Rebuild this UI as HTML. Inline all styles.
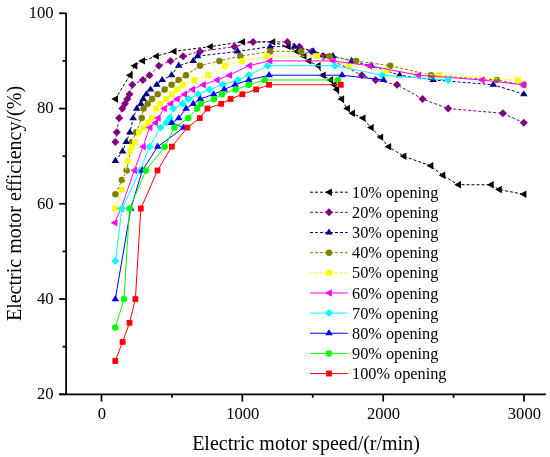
<!DOCTYPE html>
<html><head><meta charset="utf-8"><style>
html,body{margin:0;padding:0;background:#fff;width:550px;height:457px;overflow:hidden;position:relative;font-family:"Liberation Serif",serif;}
</style></head><body>
<svg width="550" height="457" viewBox="0 0 550 457" style="position:absolute;left:0;top:0;will-change:transform">
<g stroke="#000" stroke-width="1.75" fill="none">
<line x1="66.1" y1="12.8" x2="66.1" y2="395.3"/>
<line x1="59.099999999999994" y1="394.3" x2="545.9" y2="394.3"/>
<line x1="59.099999999999994" y1="394.30" x2="66.1" y2="394.30"/>
<line x1="59.099999999999994" y1="299.05" x2="66.1" y2="299.05"/>
<line x1="59.099999999999994" y1="203.80" x2="66.1" y2="203.80"/>
<line x1="59.099999999999994" y1="108.55" x2="66.1" y2="108.55"/>
<line x1="59.099999999999994" y1="13.30" x2="66.1" y2="13.30"/>
<line x1="62.599999999999994" y1="346.68" x2="66.1" y2="346.68"/>
<line x1="62.599999999999994" y1="251.43" x2="66.1" y2="251.43"/>
<line x1="62.599999999999994" y1="156.18" x2="66.1" y2="156.18"/>
<line x1="62.599999999999994" y1="60.92" x2="66.1" y2="60.92"/>
<line x1="101.50" y1="394.3" x2="101.50" y2="401.6"/>
<line x1="242.33" y1="394.3" x2="242.33" y2="401.6"/>
<line x1="383.17" y1="394.3" x2="383.17" y2="401.6"/>
<line x1="524.00" y1="394.3" x2="524.00" y2="401.6"/>
<line x1="171.92" y1="394.3" x2="171.92" y2="397.8"/>
<line x1="312.75" y1="394.3" x2="312.75" y2="397.8"/>
<line x1="453.58" y1="394.3" x2="453.58" y2="397.8"/>
</g>
<g font-family="Liberation Serif, serif" font-size="16.6" fill="#000">
<text x="53.6" y="399.00" text-anchor="end">20</text>
<text x="53.6" y="303.75" text-anchor="end">40</text>
<text x="53.6" y="208.50" text-anchor="end">60</text>
<text x="53.6" y="113.25" text-anchor="end">80</text>
<text x="53.6" y="18.00" text-anchor="end">100</text>
<text x="101.90" y="419.3" text-anchor="middle">0</text>
<text x="242.73" y="419.3" text-anchor="middle">1000</text>
<text x="383.57" y="419.3" text-anchor="middle">2000</text>
<text x="524.40" y="419.3" text-anchor="middle">3000</text>
</g>
<text x="306" y="450.2" text-anchor="middle" font-family="Liberation Serif, serif" font-size="20">Electric motor speed/(r/min)</text>
<text transform="translate(21,203.5) rotate(-90)" text-anchor="middle" font-family="Liberation Serif, serif" font-size="20">Electric motor efficiency/(%)</text>
<path d="M115.20,99.03L129.80,75.21L134.50,65.69L142.20,60.92L156.00,56.16L173.70,51.40L210.00,46.64L242.20,41.88L272.40,41.88L287.90,46.64L296.60,51.40L303.70,56.16L308.60,60.92L317.80,65.69L322.90,75.21L330.30,79.97L333.80,84.74L336.40,89.50L341.30,99.03L347.10,108.55L352.20,113.31L362.70,118.08L370.90,127.60L380.40,137.12L388.40,146.65L403.60,156.18L430.50,165.70L442.50,175.23L458.20,184.75L490.90,184.75L499.00,189.51L523.60,194.28" fill="none" stroke="#000000" stroke-width="1.0" stroke-dasharray="3,2"/>
<g><path d="M111.30,99.03L118.00,95.33L118.00,102.73Z" fill="#000000"/><path d="M125.90,75.21L132.60,71.51L132.60,78.91Z" fill="#000000"/><path d="M130.60,65.69L137.30,61.99L137.30,69.39Z" fill="#000000"/><path d="M138.30,60.92L145.00,57.22L145.00,64.62Z" fill="#000000"/><path d="M152.10,56.16L158.80,52.46L158.80,59.86Z" fill="#000000"/><path d="M169.80,51.40L176.50,47.70L176.50,55.10Z" fill="#000000"/><path d="M206.10,46.64L212.80,42.94L212.80,50.34Z" fill="#000000"/><path d="M238.30,41.88L245.00,38.17L245.00,45.58Z" fill="#000000"/><path d="M268.50,41.88L275.20,38.17L275.20,45.58Z" fill="#000000"/><path d="M284.00,46.64L290.70,42.94L290.70,50.34Z" fill="#000000"/><path d="M292.70,51.40L299.40,47.70L299.40,55.10Z" fill="#000000"/><path d="M299.80,56.16L306.50,52.46L306.50,59.86Z" fill="#000000"/><path d="M304.70,60.92L311.40,57.22L311.40,64.62Z" fill="#000000"/><path d="M313.90,65.69L320.60,61.99L320.60,69.39Z" fill="#000000"/><path d="M319.00,75.21L325.70,71.51L325.70,78.91Z" fill="#000000"/><path d="M326.40,79.97L333.10,76.27L333.10,83.67Z" fill="#000000"/><path d="M329.90,84.74L336.60,81.04L336.60,88.44Z" fill="#000000"/><path d="M332.50,89.50L339.20,85.80L339.20,93.20Z" fill="#000000"/><path d="M337.40,99.03L344.10,95.33L344.10,102.73Z" fill="#000000"/><path d="M343.20,108.55L349.90,104.85L349.90,112.25Z" fill="#000000"/><path d="M348.30,113.31L355.00,109.61L355.00,117.01Z" fill="#000000"/><path d="M358.80,118.08L365.50,114.38L365.50,121.78Z" fill="#000000"/><path d="M367.00,127.60L373.70,123.90L373.70,131.30Z" fill="#000000"/><path d="M376.50,137.12L383.20,133.43L383.20,140.82Z" fill="#000000"/><path d="M384.50,146.65L391.20,142.95L391.20,150.35Z" fill="#000000"/><path d="M399.70,156.18L406.40,152.48L406.40,159.88Z" fill="#000000"/><path d="M426.60,165.70L433.30,162.00L433.30,169.40Z" fill="#000000"/><path d="M438.60,175.23L445.30,171.53L445.30,178.93Z" fill="#000000"/><path d="M454.30,184.75L461.00,181.05L461.00,188.45Z" fill="#000000"/><path d="M487.00,184.75L493.70,181.05L493.70,188.45Z" fill="#000000"/><path d="M495.10,189.51L501.80,185.81L501.80,193.21Z" fill="#000000"/><path d="M519.70,194.28L526.40,190.58L526.40,197.97Z" fill="#000000"/></g>
<path d="M115.40,141.89L116.80,132.36L119.10,118.08L122.30,108.55L125.00,103.79L127.30,99.03L129.50,94.26L132.30,84.74L142.90,79.97L149.50,75.21L158.90,65.69L170.50,60.92L183.10,56.16L200.10,51.40L234.50,46.64L253.10,41.88L287.40,41.88L299.40,46.64L311.90,51.40L323.50,56.16L361.80,75.21L375.60,79.97L397.00,84.74L422.50,99.03L448.20,108.55L502.90,113.31L523.80,122.84" fill="none" stroke="#800080" stroke-width="1.0" stroke-dasharray="3,2"/>
<g><path d="M115.40,137.89L119.40,141.89L115.40,145.89L111.40,141.89Z" fill="#800080"/><path d="M116.80,128.36L120.80,132.36L116.80,136.36L112.80,132.36Z" fill="#800080"/><path d="M119.10,114.08L123.10,118.08L119.10,122.08L115.10,118.08Z" fill="#800080"/><path d="M122.30,104.55L126.30,108.55L122.30,112.55L118.30,108.55Z" fill="#800080"/><path d="M125.00,99.79L129.00,103.79L125.00,107.79L121.00,103.79Z" fill="#800080"/><path d="M127.30,95.03L131.30,99.03L127.30,103.03L123.30,99.03Z" fill="#800080"/><path d="M129.50,90.26L133.50,94.26L129.50,98.26L125.50,94.26Z" fill="#800080"/><path d="M132.30,80.74L136.30,84.74L132.30,88.74L128.30,84.74Z" fill="#800080"/><path d="M142.90,75.97L146.90,79.97L142.90,83.97L138.90,79.97Z" fill="#800080"/><path d="M149.50,71.21L153.50,75.21L149.50,79.21L145.50,75.21Z" fill="#800080"/><path d="M158.90,61.69L162.90,65.69L158.90,69.69L154.90,65.69Z" fill="#800080"/><path d="M170.50,56.92L174.50,60.92L170.50,64.92L166.50,60.92Z" fill="#800080"/><path d="M183.10,52.16L187.10,56.16L183.10,60.16L179.10,56.16Z" fill="#800080"/><path d="M200.10,47.40L204.10,51.40L200.10,55.40L196.10,51.40Z" fill="#800080"/><path d="M234.50,42.64L238.50,46.64L234.50,50.64L230.50,46.64Z" fill="#800080"/><path d="M253.10,37.88L257.10,41.88L253.10,45.88L249.10,41.88Z" fill="#800080"/><path d="M287.40,37.88L291.40,41.88L287.40,45.88L283.40,41.88Z" fill="#800080"/><path d="M299.40,42.64L303.40,46.64L299.40,50.64L295.40,46.64Z" fill="#800080"/><path d="M311.90,47.40L315.90,51.40L311.90,55.40L307.90,51.40Z" fill="#800080"/><path d="M323.50,52.16L327.50,56.16L323.50,60.16L319.50,56.16Z" fill="#800080"/><path d="M361.80,71.21L365.80,75.21L361.80,79.21L357.80,75.21Z" fill="#800080"/><path d="M375.60,75.97L379.60,79.97L375.60,83.97L371.60,79.97Z" fill="#800080"/><path d="M397.00,80.74L401.00,84.74L397.00,88.74L393.00,84.74Z" fill="#800080"/><path d="M422.50,95.03L426.50,99.03L422.50,103.03L418.50,99.03Z" fill="#800080"/><path d="M448.20,104.55L452.20,108.55L448.20,112.55L444.20,108.55Z" fill="#800080"/><path d="M502.90,109.31L506.90,113.31L502.90,117.31L498.90,113.31Z" fill="#800080"/><path d="M523.80,118.84L527.80,122.84L523.80,126.84L519.80,122.84Z" fill="#800080"/></g>
<path d="M115.40,160.94L122.60,151.41L126.30,141.89L129.90,132.36L133.20,118.08L136.80,108.55L140.90,103.79L143.20,99.03L146.40,94.26L150.50,89.50L156.80,84.74L162.20,79.97L171.60,75.21L178.70,65.69L193.30,60.92L197.60,56.16L237.60,51.40L270.20,46.64L294.40,46.64L313.40,51.40L332.90,56.16L351.70,60.92L371.30,65.69L399.60,75.21L433.30,79.97L493.30,84.74L523.80,94.26" fill="none" stroke="#000080" stroke-width="1.0" stroke-dasharray="3,2"/>
<g><path d="M115.40,156.84L119.20,163.04L111.60,163.04Z" fill="#000080"/><path d="M122.60,147.31L126.40,153.51L118.80,153.51Z" fill="#000080"/><path d="M126.30,137.79L130.10,143.99L122.50,143.99Z" fill="#000080"/><path d="M129.90,128.26L133.70,134.46L126.10,134.46Z" fill="#000080"/><path d="M133.20,113.98L137.00,120.17L129.40,120.17Z" fill="#000080"/><path d="M136.80,104.45L140.60,110.65L133.00,110.65Z" fill="#000080"/><path d="M140.90,99.69L144.70,105.89L137.10,105.89Z" fill="#000080"/><path d="M143.20,94.93L147.00,101.12L139.40,101.12Z" fill="#000080"/><path d="M146.40,90.16L150.20,96.36L142.60,96.36Z" fill="#000080"/><path d="M150.50,85.40L154.30,91.60L146.70,91.60Z" fill="#000080"/><path d="M156.80,80.64L160.60,86.84L153.00,86.84Z" fill="#000080"/><path d="M162.20,75.88L166.00,82.07L158.40,82.07Z" fill="#000080"/><path d="M171.60,71.11L175.40,77.31L167.80,77.31Z" fill="#000080"/><path d="M178.70,61.59L182.50,67.79L174.90,67.79Z" fill="#000080"/><path d="M193.30,56.82L197.10,63.02L189.50,63.02Z" fill="#000080"/><path d="M197.60,52.06L201.40,58.26L193.80,58.26Z" fill="#000080"/><path d="M237.60,47.30L241.40,53.50L233.80,53.50Z" fill="#000080"/><path d="M270.20,42.54L274.00,48.74L266.40,48.74Z" fill="#000080"/><path d="M294.40,42.54L298.20,48.74L290.60,48.74Z" fill="#000080"/><path d="M313.40,47.30L317.20,53.50L309.60,53.50Z" fill="#000080"/><path d="M332.90,52.06L336.70,58.26L329.10,58.26Z" fill="#000080"/><path d="M351.70,56.82L355.50,63.02L347.90,63.02Z" fill="#000080"/><path d="M371.30,61.59L375.10,67.79L367.50,67.79Z" fill="#000080"/><path d="M399.60,71.11L403.40,77.31L395.80,77.31Z" fill="#000080"/><path d="M433.30,75.88L437.10,82.07L429.50,82.07Z" fill="#000080"/><path d="M493.30,80.64L497.10,86.84L489.50,86.84Z" fill="#000080"/><path d="M523.80,90.16L527.60,96.36L520.00,96.36Z" fill="#000080"/></g>
<path d="M115.40,194.28L121.90,179.99L126.60,170.46L132.10,141.89L136.10,132.36L141.70,118.08L143.60,108.55L147.70,103.79L152.10,99.03L157.70,94.26L164.60,89.50L171.60,84.74L178.60,79.97L186.00,75.21L200.00,65.69L219.40,60.92L240.30,56.16L270.20,51.40L301.00,51.40L329.30,56.16L356.20,60.92L390.20,65.69L431.10,75.21L496.90,79.97L523.60,84.74" fill="none" stroke="#808000" stroke-width="1.0" stroke-dasharray="3,2"/>
<g><circle cx="115.40" cy="194.28" r="3.25" fill="#808000"/><circle cx="121.90" cy="179.99" r="3.25" fill="#808000"/><circle cx="126.60" cy="170.46" r="3.25" fill="#808000"/><circle cx="132.10" cy="141.89" r="3.25" fill="#808000"/><circle cx="136.10" cy="132.36" r="3.25" fill="#808000"/><circle cx="141.70" cy="118.08" r="3.25" fill="#808000"/><circle cx="143.60" cy="108.55" r="3.25" fill="#808000"/><circle cx="147.70" cy="103.79" r="3.25" fill="#808000"/><circle cx="152.10" cy="99.03" r="3.25" fill="#808000"/><circle cx="157.70" cy="94.26" r="3.25" fill="#808000"/><circle cx="164.60" cy="89.50" r="3.25" fill="#808000"/><circle cx="171.60" cy="84.74" r="3.25" fill="#808000"/><circle cx="178.60" cy="79.97" r="3.25" fill="#808000"/><circle cx="186.00" cy="75.21" r="3.25" fill="#808000"/><circle cx="200.00" cy="65.69" r="3.25" fill="#808000"/><circle cx="219.40" cy="60.92" r="3.25" fill="#808000"/><circle cx="240.30" cy="56.16" r="3.25" fill="#808000"/><circle cx="270.20" cy="51.40" r="3.25" fill="#808000"/><circle cx="301.00" cy="51.40" r="3.25" fill="#808000"/><circle cx="329.30" cy="56.16" r="3.25" fill="#808000"/><circle cx="356.20" cy="60.92" r="3.25" fill="#808000"/><circle cx="390.20" cy="65.69" r="3.25" fill="#808000"/><circle cx="431.10" cy="75.21" r="3.25" fill="#808000"/><circle cx="496.90" cy="79.97" r="3.25" fill="#808000"/><circle cx="523.60" cy="84.74" r="3.25" fill="#808000"/></g>
<path d="M115.10,208.56L121.90,189.51L127.70,160.94L129.90,151.41L132.10,146.65L135.00,141.89L138.90,132.36L143.90,127.60L147.80,122.84L151.90,118.08L156.30,108.55L160.20,103.79L166.10,99.03L171.80,94.26L176.90,89.50L182.80,84.74L194.30,79.97L208.10,75.21L224.80,65.69L242.30,60.92L267.20,56.16L316.80,56.16L348.80,65.69L386.50,70.45L439.10,75.21L518.00,79.97" fill="none" stroke="#FFFF00" stroke-width="1.0" stroke-dasharray="3,2"/>
<g><rect x="112.20" y="205.66" width="5.80" height="5.80" fill="#FFFF00"/><rect x="119.00" y="186.61" width="5.80" height="5.80" fill="#FFFF00"/><rect x="124.80" y="158.04" width="5.80" height="5.80" fill="#FFFF00"/><rect x="127.00" y="148.51" width="5.80" height="5.80" fill="#FFFF00"/><rect x="129.20" y="143.75" width="5.80" height="5.80" fill="#FFFF00"/><rect x="132.10" y="138.99" width="5.80" height="5.80" fill="#FFFF00"/><rect x="136.00" y="129.46" width="5.80" height="5.80" fill="#FFFF00"/><rect x="141.00" y="124.70" width="5.80" height="5.80" fill="#FFFF00"/><rect x="144.90" y="119.94" width="5.80" height="5.80" fill="#FFFF00"/><rect x="149.00" y="115.17" width="5.80" height="5.80" fill="#FFFF00"/><rect x="153.40" y="105.65" width="5.80" height="5.80" fill="#FFFF00"/><rect x="157.30" y="100.89" width="5.80" height="5.80" fill="#FFFF00"/><rect x="163.20" y="96.12" width="5.80" height="5.80" fill="#FFFF00"/><rect x="168.90" y="91.36" width="5.80" height="5.80" fill="#FFFF00"/><rect x="174.00" y="86.60" width="5.80" height="5.80" fill="#FFFF00"/><rect x="179.90" y="81.84" width="5.80" height="5.80" fill="#FFFF00"/><rect x="191.40" y="77.07" width="5.80" height="5.80" fill="#FFFF00"/><rect x="205.20" y="72.31" width="5.80" height="5.80" fill="#FFFF00"/><rect x="221.90" y="62.79" width="5.80" height="5.80" fill="#FFFF00"/><rect x="239.40" y="58.02" width="5.80" height="5.80" fill="#FFFF00"/><rect x="264.30" y="53.26" width="5.80" height="5.80" fill="#FFFF00"/><rect x="313.90" y="53.26" width="5.80" height="5.80" fill="#FFFF00"/><rect x="345.90" y="62.79" width="5.80" height="5.80" fill="#FFFF00"/><rect x="383.60" y="67.55" width="5.80" height="5.80" fill="#FFFF00"/><rect x="436.20" y="72.31" width="5.80" height="5.80" fill="#FFFF00"/><rect x="515.10" y="77.07" width="5.80" height="5.80" fill="#FFFF00"/></g>
<path d="M114.60,222.85L121.00,208.56L134.30,170.46L143.00,146.65L149.60,127.60L155.20,122.84L157.90,118.08L164.00,108.55L170.40,103.79L176.90,99.03L184.20,94.26L192.20,89.50L203.00,84.74L216.80,79.97L229.20,75.21L249.00,65.69L269.60,60.92L332.90,60.92L369.10,65.69L418.20,75.21L481.80,79.97L523.20,84.74" fill="none" stroke="#FF00FF" stroke-width="1.0"/>
<g><path d="M110.70,222.85L117.40,219.15L117.40,226.55Z" fill="#FF00FF"/><path d="M117.10,208.56L123.80,204.86L123.80,212.26Z" fill="#FF00FF"/><path d="M130.40,170.46L137.10,166.76L137.10,174.16Z" fill="#FF00FF"/><path d="M139.10,146.65L145.80,142.95L145.80,150.35Z" fill="#FF00FF"/><path d="M145.70,127.60L152.40,123.90L152.40,131.30Z" fill="#FF00FF"/><path d="M151.30,122.84L158.00,119.14L158.00,126.54Z" fill="#FF00FF"/><path d="M154.00,118.08L160.70,114.38L160.70,121.78Z" fill="#FF00FF"/><path d="M160.10,108.55L166.80,104.85L166.80,112.25Z" fill="#FF00FF"/><path d="M166.50,103.79L173.20,100.09L173.20,107.49Z" fill="#FF00FF"/><path d="M173.00,99.03L179.70,95.33L179.70,102.73Z" fill="#FF00FF"/><path d="M180.30,94.26L187.00,90.56L187.00,97.96Z" fill="#FF00FF"/><path d="M188.30,89.50L195.00,85.80L195.00,93.20Z" fill="#FF00FF"/><path d="M199.10,84.74L205.80,81.04L205.80,88.44Z" fill="#FF00FF"/><path d="M212.90,79.97L219.60,76.27L219.60,83.67Z" fill="#FF00FF"/><path d="M225.30,75.21L232.00,71.51L232.00,78.91Z" fill="#FF00FF"/><path d="M245.10,65.69L251.80,61.99L251.80,69.39Z" fill="#FF00FF"/><path d="M265.70,60.92L272.40,57.22L272.40,64.62Z" fill="#FF00FF"/><path d="M329.00,60.92L335.70,57.22L335.70,64.62Z" fill="#FF00FF"/><path d="M365.20,65.69L371.90,61.99L371.90,69.39Z" fill="#FF00FF"/><path d="M414.30,75.21L421.00,71.51L421.00,78.91Z" fill="#FF00FF"/><path d="M477.90,79.97L484.60,76.27L484.60,83.67Z" fill="#FF00FF"/><path d="M519.30,84.74L526.00,81.04L526.00,88.44Z" fill="#FF00FF"/></g>
<path d="M115.40,260.95L121.90,208.56L140.10,170.46L149.50,146.65L160.50,127.60L166.20,122.84L169.80,118.08L173.20,108.55L182.80,103.79L188.50,99.03L198.30,94.26L209.50,89.50L222.60,84.74L237.90,79.97L249.00,75.21L267.70,65.69L335.10,65.69L382.20,75.21L448.10,79.97" fill="none" stroke="#00FFFF" stroke-width="1.0"/>
<g><path d="M115.40,256.95L119.40,260.95L115.40,264.95L111.40,260.95Z" fill="#00FFFF"/><path d="M121.90,204.56L125.90,208.56L121.90,212.56L117.90,208.56Z" fill="#00FFFF"/><path d="M140.10,166.46L144.10,170.46L140.10,174.46L136.10,170.46Z" fill="#00FFFF"/><path d="M149.50,142.65L153.50,146.65L149.50,150.65L145.50,146.65Z" fill="#00FFFF"/><path d="M160.50,123.60L164.50,127.60L160.50,131.60L156.50,127.60Z" fill="#00FFFF"/><path d="M166.20,118.84L170.20,122.84L166.20,126.84L162.20,122.84Z" fill="#00FFFF"/><path d="M169.80,114.08L173.80,118.08L169.80,122.08L165.80,118.08Z" fill="#00FFFF"/><path d="M173.20,104.55L177.20,108.55L173.20,112.55L169.20,108.55Z" fill="#00FFFF"/><path d="M182.80,99.79L186.80,103.79L182.80,107.79L178.80,103.79Z" fill="#00FFFF"/><path d="M188.50,95.03L192.50,99.03L188.50,103.03L184.50,99.03Z" fill="#00FFFF"/><path d="M198.30,90.26L202.30,94.26L198.30,98.26L194.30,94.26Z" fill="#00FFFF"/><path d="M209.50,85.50L213.50,89.50L209.50,93.50L205.50,89.50Z" fill="#00FFFF"/><path d="M222.60,80.74L226.60,84.74L222.60,88.74L218.60,84.74Z" fill="#00FFFF"/><path d="M237.90,75.97L241.90,79.97L237.90,83.97L233.90,79.97Z" fill="#00FFFF"/><path d="M249.00,71.21L253.00,75.21L249.00,79.21L245.00,75.21Z" fill="#00FFFF"/><path d="M267.70,61.69L271.70,65.69L267.70,69.69L263.70,65.69Z" fill="#00FFFF"/><path d="M335.10,61.69L339.10,65.69L335.10,69.69L331.10,65.69Z" fill="#00FFFF"/><path d="M382.20,71.21L386.20,75.21L382.20,79.21L378.20,75.21Z" fill="#00FFFF"/><path d="M448.10,75.97L452.10,79.97L448.10,83.97L444.10,79.97Z" fill="#00FFFF"/></g>
<path d="M115.30,299.05L130.80,208.56L142.30,170.46L157.70,146.65L183.60,127.60L171.70,122.84L178.80,118.08L186.10,108.55L193.20,103.79L200.20,99.03L213.60,94.26L224.20,89.50L235.00,84.74L248.80,79.97L269.10,75.21L342.10,75.21L383.60,79.97" fill="none" stroke="#0000FF" stroke-width="1.0"/>
<g><path d="M115.30,294.95L119.10,301.15L111.50,301.15Z" fill="#0000FF"/><path d="M130.80,204.46L134.60,210.66L127.00,210.66Z" fill="#0000FF"/><path d="M142.30,166.36L146.10,172.56L138.50,172.56Z" fill="#0000FF"/><path d="M157.70,142.55L161.50,148.75L153.90,148.75Z" fill="#0000FF"/><path d="M183.60,123.50L187.40,129.70L179.80,129.70Z" fill="#0000FF"/><path d="M171.70,118.74L175.50,124.94L167.90,124.94Z" fill="#0000FF"/><path d="M178.80,113.98L182.60,120.17L175.00,120.17Z" fill="#0000FF"/><path d="M186.10,104.45L189.90,110.65L182.30,110.65Z" fill="#0000FF"/><path d="M193.20,99.69L197.00,105.89L189.40,105.89Z" fill="#0000FF"/><path d="M200.20,94.93L204.00,101.12L196.40,101.12Z" fill="#0000FF"/><path d="M213.60,90.16L217.40,96.36L209.80,96.36Z" fill="#0000FF"/><path d="M224.20,85.40L228.00,91.60L220.40,91.60Z" fill="#0000FF"/><path d="M235.00,80.64L238.80,86.84L231.20,86.84Z" fill="#0000FF"/><path d="M248.80,75.88L252.60,82.07L245.00,82.07Z" fill="#0000FF"/><path d="M269.10,71.11L272.90,77.31L265.30,77.31Z" fill="#0000FF"/><path d="M342.10,71.11L345.90,77.31L338.30,77.31Z" fill="#0000FF"/><path d="M383.60,75.88L387.40,82.07L379.80,82.07Z" fill="#0000FF"/></g>
<path d="M115.30,327.62L124.00,299.05L129.50,208.56L145.90,170.46L164.70,146.65L174.50,127.60L188.30,118.08L197.10,108.55L200.80,103.79L213.90,99.03L221.90,94.26L235.70,89.50L248.80,84.74L264.70,79.97L337.90,79.97" fill="none" stroke="#00FF00" stroke-width="1.0"/>
<g><circle cx="115.30" cy="327.62" r="3.25" fill="#00FF00"/><circle cx="124.00" cy="299.05" r="3.25" fill="#00FF00"/><circle cx="129.50" cy="208.56" r="3.25" fill="#00FF00"/><circle cx="145.90" cy="170.46" r="3.25" fill="#00FF00"/><circle cx="164.70" cy="146.65" r="3.25" fill="#00FF00"/><circle cx="174.50" cy="127.60" r="3.25" fill="#00FF00"/><circle cx="188.30" cy="118.08" r="3.25" fill="#00FF00"/><circle cx="197.10" cy="108.55" r="3.25" fill="#00FF00"/><circle cx="200.80" cy="103.79" r="3.25" fill="#00FF00"/><circle cx="213.90" cy="99.03" r="3.25" fill="#00FF00"/><circle cx="221.90" cy="94.26" r="3.25" fill="#00FF00"/><circle cx="235.70" cy="89.50" r="3.25" fill="#00FF00"/><circle cx="248.80" cy="84.74" r="3.25" fill="#00FF00"/><circle cx="264.70" cy="79.97" r="3.25" fill="#00FF00"/><circle cx="337.90" cy="79.97" r="3.25" fill="#00FF00"/></g>
<path d="M115.30,360.96L122.60,341.91L129.50,322.86L135.40,299.05L140.80,208.56L157.50,170.46L171.80,146.65L187.30,127.60L199.80,118.08L207.40,108.55L221.20,103.79L230.60,99.03L242.30,94.26L256.10,89.50L269.10,84.74L340.80,84.74" fill="none" stroke="#FF0000" stroke-width="1.0"/>
<g><rect x="112.40" y="358.06" width="5.80" height="5.80" fill="#FF0000"/><rect x="119.70" y="339.01" width="5.80" height="5.80" fill="#FF0000"/><rect x="126.60" y="319.96" width="5.80" height="5.80" fill="#FF0000"/><rect x="132.50" y="296.15" width="5.80" height="5.80" fill="#FF0000"/><rect x="137.90" y="205.66" width="5.80" height="5.80" fill="#FF0000"/><rect x="154.60" y="167.56" width="5.80" height="5.80" fill="#FF0000"/><rect x="168.90" y="143.75" width="5.80" height="5.80" fill="#FF0000"/><rect x="184.40" y="124.70" width="5.80" height="5.80" fill="#FF0000"/><rect x="196.90" y="115.17" width="5.80" height="5.80" fill="#FF0000"/><rect x="204.50" y="105.65" width="5.80" height="5.80" fill="#FF0000"/><rect x="218.30" y="100.89" width="5.80" height="5.80" fill="#FF0000"/><rect x="227.70" y="96.12" width="5.80" height="5.80" fill="#FF0000"/><rect x="239.40" y="91.36" width="5.80" height="5.80" fill="#FF0000"/><rect x="253.20" y="86.60" width="5.80" height="5.80" fill="#FF0000"/><rect x="266.20" y="81.84" width="5.80" height="5.80" fill="#FF0000"/><rect x="337.90" y="81.84" width="5.80" height="5.80" fill="#FF0000"/></g>
<line x1="310" y1="192.20" x2="347.7" y2="192.20" stroke="#000000" stroke-width="1.0" stroke-dasharray="3,2"/>
<path d="M325.10,192.20L331.80,188.50L331.80,195.90Z" fill="#000000"/>
<text x="352" y="197.80" font-family="Liberation Serif, serif" font-size="16.3">10% opening</text>
<line x1="310" y1="212.35" x2="347.7" y2="212.35" stroke="#800080" stroke-width="1.0" stroke-dasharray="3,2"/>
<path d="M329.00,208.35L333.00,212.35L329.00,216.35L325.00,212.35Z" fill="#800080"/>
<text x="352" y="217.95" font-family="Liberation Serif, serif" font-size="16.3">20% opening</text>
<line x1="310" y1="232.50" x2="347.7" y2="232.50" stroke="#000080" stroke-width="1.0" stroke-dasharray="3,2"/>
<path d="M329.00,228.40L332.80,234.60L325.20,234.60Z" fill="#000080"/>
<text x="352" y="238.10" font-family="Liberation Serif, serif" font-size="16.3">30% opening</text>
<line x1="310" y1="252.65" x2="347.7" y2="252.65" stroke="#808000" stroke-width="1.0" stroke-dasharray="3,2"/>
<circle cx="329.00" cy="252.65" r="3.25" fill="#808000"/>
<text x="352" y="258.25" font-family="Liberation Serif, serif" font-size="16.3">40% opening</text>
<line x1="310" y1="272.80" x2="347.7" y2="272.80" stroke="#FFFF00" stroke-width="1.0" stroke-dasharray="3,2"/>
<rect x="326.10" y="269.90" width="5.80" height="5.80" fill="#FFFF00"/>
<text x="352" y="278.40" font-family="Liberation Serif, serif" font-size="16.3">50% opening</text>
<line x1="310" y1="292.95" x2="347.7" y2="292.95" stroke="#FF00FF" stroke-width="1.0"/>
<path d="M325.10,292.95L331.80,289.25L331.80,296.65Z" fill="#FF00FF"/>
<text x="352" y="298.55" font-family="Liberation Serif, serif" font-size="16.3">60% opening</text>
<line x1="310" y1="313.10" x2="347.7" y2="313.10" stroke="#00FFFF" stroke-width="1.0"/>
<path d="M329.00,309.10L333.00,313.10L329.00,317.10L325.00,313.10Z" fill="#00FFFF"/>
<text x="352" y="318.70" font-family="Liberation Serif, serif" font-size="16.3">70% opening</text>
<line x1="310" y1="333.25" x2="347.7" y2="333.25" stroke="#0000FF" stroke-width="1.0"/>
<path d="M329.00,329.15L332.80,335.35L325.20,335.35Z" fill="#0000FF"/>
<text x="352" y="338.85" font-family="Liberation Serif, serif" font-size="16.3">80% opening</text>
<line x1="310" y1="353.40" x2="347.7" y2="353.40" stroke="#00FF00" stroke-width="1.0"/>
<circle cx="329.00" cy="353.40" r="3.25" fill="#00FF00"/>
<text x="352" y="359.00" font-family="Liberation Serif, serif" font-size="16.3">90% opening</text>
<line x1="310" y1="373.55" x2="347.7" y2="373.55" stroke="#FF0000" stroke-width="1.0"/>
<rect x="326.10" y="370.65" width="5.80" height="5.80" fill="#FF0000"/>
<text x="352" y="379.15" font-family="Liberation Serif, serif" font-size="16.3">100% opening</text>
</svg>
</body></html>
